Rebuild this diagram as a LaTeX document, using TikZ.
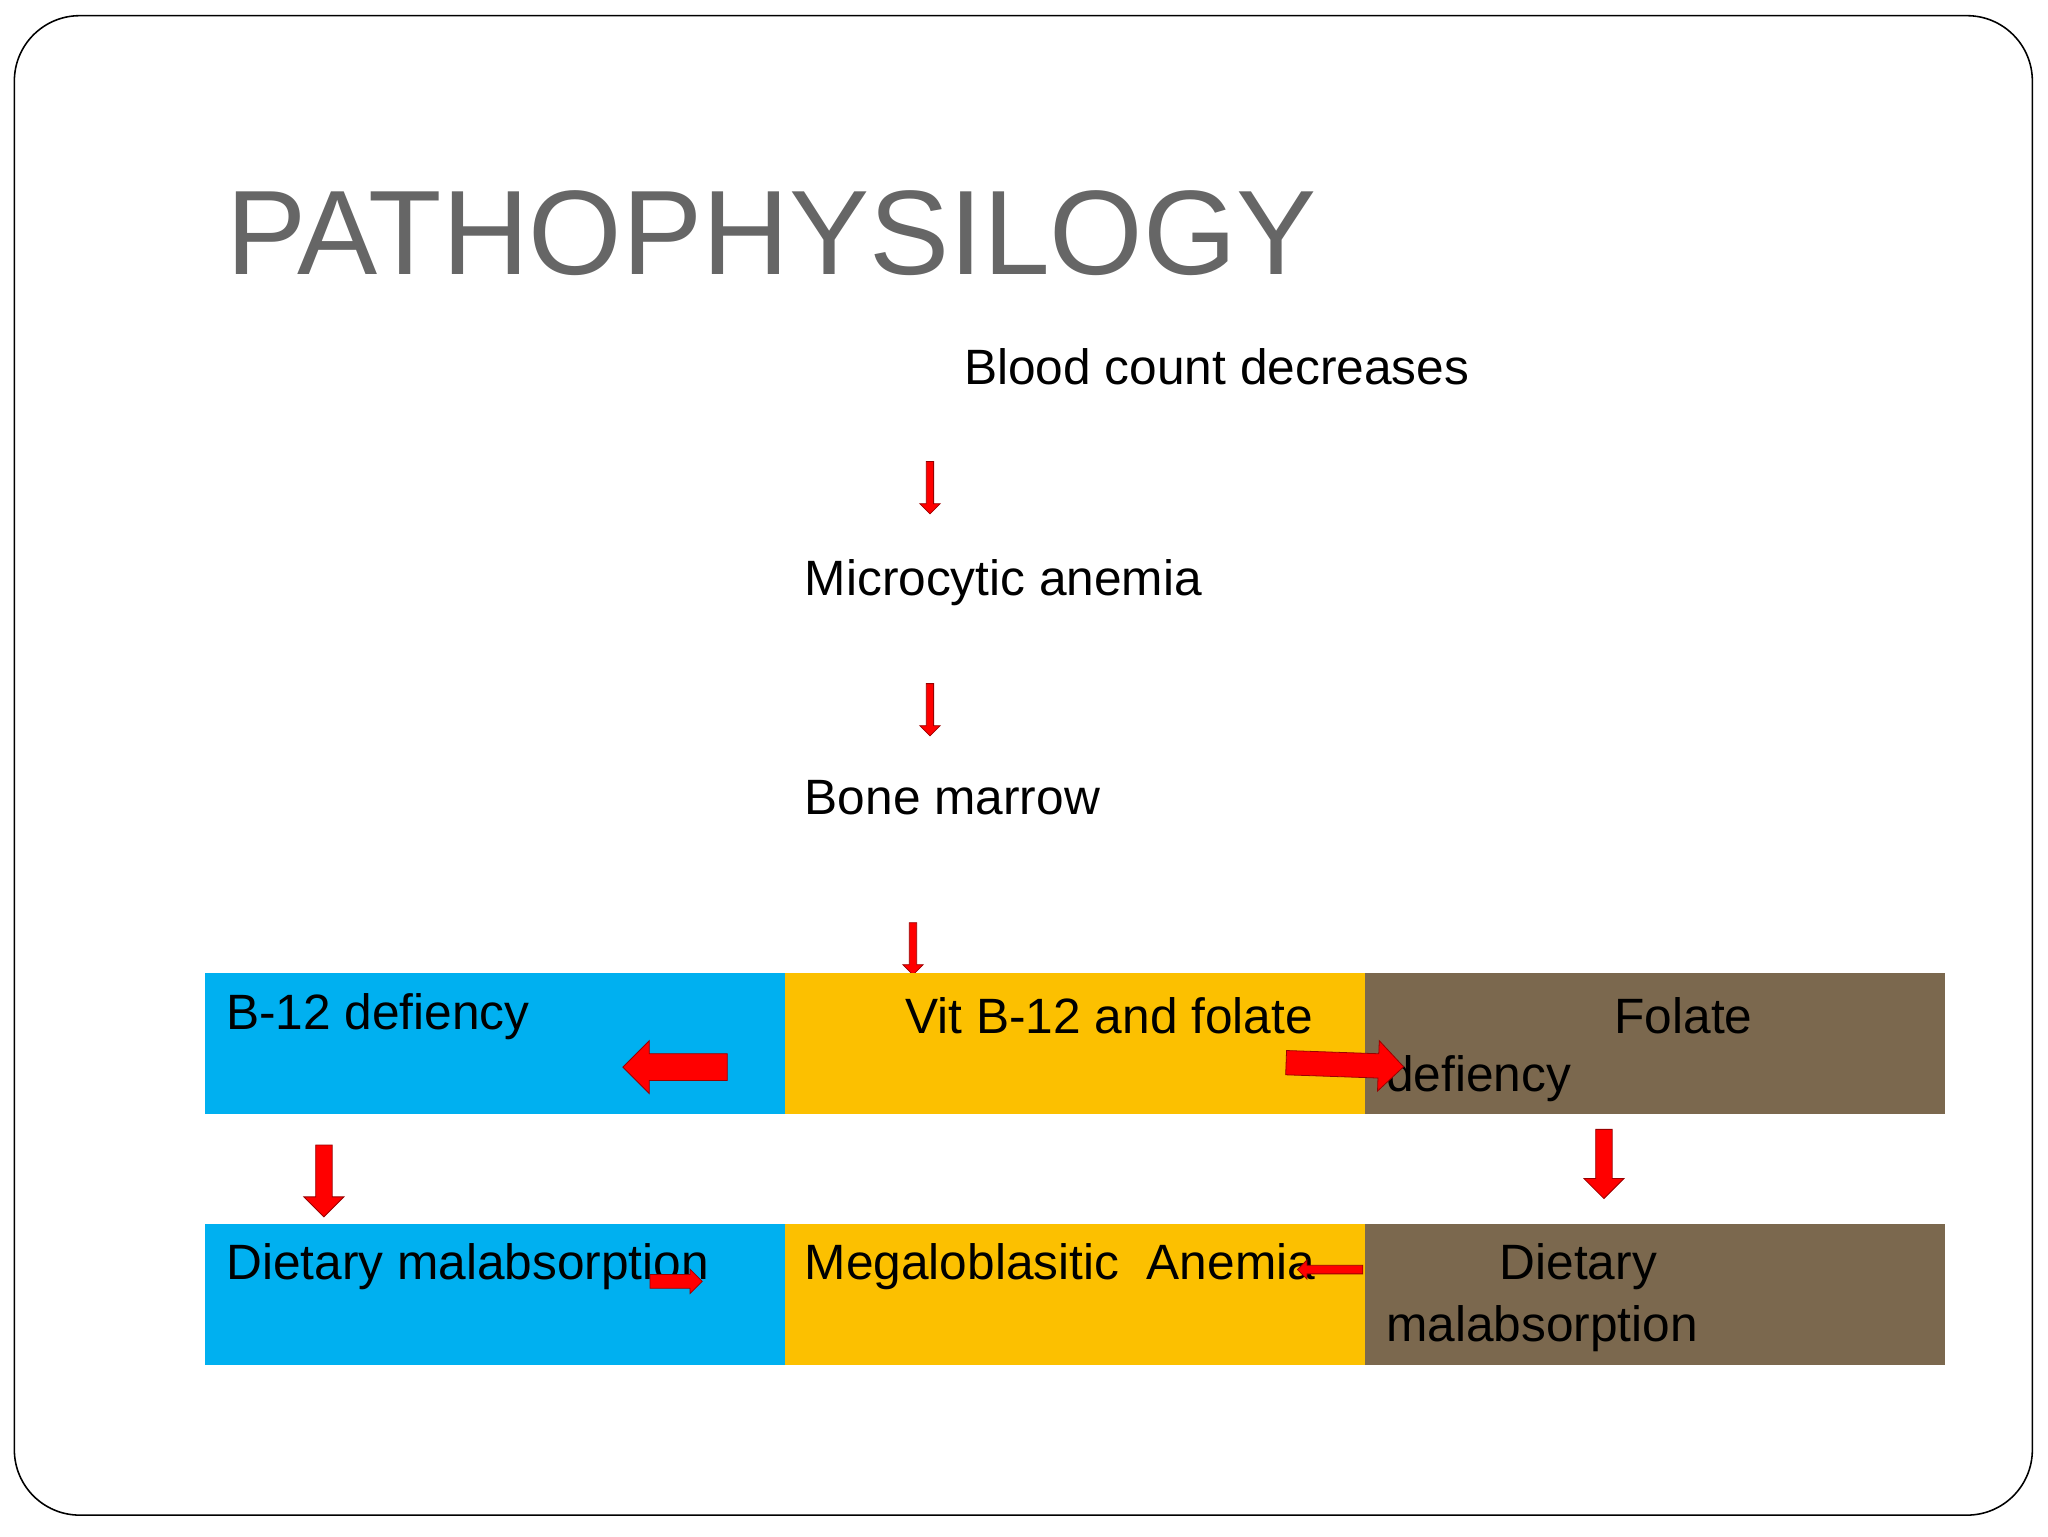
\documentclass[tikz,border=0pt]{standalone}
\usepackage{fontspec}
\setmainfont{Liberation Sans}
\usetikzlibrary{shapes.arrows}
\definecolor{boxblue}{HTML}{00B0F0}
\definecolor{boxyellow}{HTML}{FCC000}
\definecolor{boxbrown}{HTML}{7B684E}
\definecolor{titlegray}{HTML}{666666}
\tikzset{
  box/.style={draw=none, minimum width=444pt, minimum height=108pt, inner sep=0, anchor=north west},
  txt/.style={anchor=west, inner sep=0, font=\fontsize{38}{44}\selectfont},
  redarrow/.style={single arrow, fill=red, draw=red!60!black, line width=0.6pt, single arrow head extend=#1, minimum height=40pt},
}
\begin{document}
\begin{tikzpicture}[x=1pt,y=-1pt]
  \useasboundingbox (0,0) rectangle (1568,1176);
  \draw[line width=1.2pt, rounded corners=50pt] (11,12) rectangle (1556,1160);   % frame

  \node[anchor=base west, inner sep=0, text=titlegray, font=\fontsize{92}{100}\selectfont] (title) at (173,210) {PATHOPHYSILOGY};

  % flow at the top
  \node[txt] (blood) at (738,281) {Blood count decreases};
  \node[txt] (micro) at (616,446) {Microcytic anemia};
  \node[txt] (bone) at (616,611) {Bone marrow};
  \node[redarrow=5pt, inner sep=2.5pt, rotate=-90] (a1) at (712,372) {};
  \node[redarrow=5pt, inner sep=2.5pt, rotate=-90] (a2) at (712,542) {};
  \node[redarrow=5pt, inner sep=2.5pt, rotate=-90] (a3) at (699,725) {};

  % colour bands
  \node[box, fill=boxblue] (b12) at (157,745) {};
  \node[box, fill=boxyellow] (vit) at (601,745) {};
  \node[box, fill=boxbrown] (fol) at (1045,745) {};
  \node[box, fill=boxblue] (diet1) at (157,937) {};
  \node[box, fill=boxyellow] (mega) at (601,937) {};
  \node[box, fill=boxbrown] (diet2) at (1045,937) {};

  \node[txt] (t1) at (173,778) {B-12 defiency};
  \node[txt] (t2) at (693,778) {Vit B-12 and folate};
  \node[txt, anchor=center] (t3) at (1289,778) {Folate};
  \node[txt] (t4) at (1061,826) {defiency};
  \node[txt] (t5) at (173,970) {Dietary malabsorption};
  \node[txt] (t6) at (616,970) {Megaloblasitic\ \ Anemia};
  \node[txt] (t7) at (1148,970) {Dietary};
  \node[txt] (t8) at (1061,1017) {malabsorption};

  % arrows between the bands
  \node[redarrow=10pt, inner sep=10pt, minimum height=80pt, rotate=180] (a4) at (522,817) {};
  \node[redarrow=10pt, inner sep=9pt, minimum height=90pt, rotate=-2] (a5) at (1025,815) {};
  \node[redarrow=9pt, inner sep=6pt, minimum height=55pt, rotate=-90] (a6) at (248,901) {};
  \node[redarrow=9pt, inner sep=6pt, minimum height=53pt, rotate=-90] (a7) at (1228,888) {};
  \node[redarrow=4pt, inner sep=5pt, minimum height=40pt] (a8) at (515,981) {};
  \node[redarrow=4pt, inner sep=3pt, minimum height=50pt, rotate=180] (a9) at (1020,972) {};
\end{tikzpicture}
\end{document}
